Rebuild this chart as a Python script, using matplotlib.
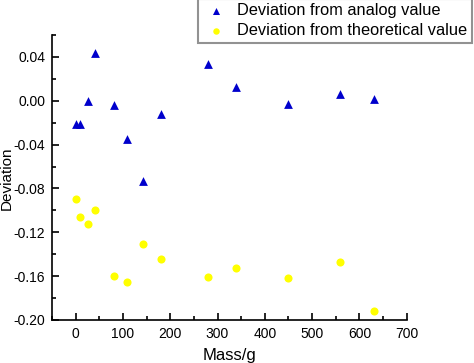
import matplotlib
matplotlib.use("Agg")
import matplotlib.pyplot as plt
from matplotlib.ticker import MultipleLocator, FormatStrFormatter

plt.rcParams["font.family"] = ["Liberation Sans", "DejaVu Sans"]

mass = [0, 8.5, 26, 41, 81, 109, 142, 181, 279, 339, 450, 560, 630]
dev_analog = [-0.021, -0.021, 0.000, 0.044, -0.004, -0.035, -0.0735,
              -0.0125, 0.0335, 0.0125, -0.0025, 0.0058, 0.0015]
dev_theory = [-0.090, -0.106, -0.112, -0.100, -0.160, -0.165, -0.131,
              -0.1445, -0.161, -0.1525, -0.162, -0.147, -0.192]

fig = plt.figure(figsize=(4.74, 3.63), dpi=100)
ax = fig.add_axes([0.1097, 0.1185, 0.7483, 0.7851])

ax.scatter(mass, dev_analog, marker="^", s=40, color="#0000cc", lw=0,
           label="Deviation from analog value", zorder=3)
ax.scatter(mass, dev_theory, marker="o", s=34, color="#ffff00", lw=0,
           label="Deviation from theoretical value", zorder=3)

ax.set_xlim(-50, 700)
ax.set_ylim(-0.20, 0.06)
ax.xaxis.set_major_locator(MultipleLocator(100))
ax.xaxis.set_minor_locator(MultipleLocator(50))
ax.set_yticks([-0.20, -0.16, -0.12, -0.08, -0.04, 0.00, 0.04])
ax.yaxis.set_minor_locator(MultipleLocator(0.02))
ax.yaxis.set_major_formatter(FormatStrFormatter("%.2f"))

for s in ("top", "right"):
    ax.spines[s].set_visible(False)
for s in ("left", "bottom"):
    ax.spines[s].set_linewidth(1.2)
ax.tick_params(which="major", direction="in", length=5, width=1.2,
               labelsize=10, pad=5)
ax.tick_params(which="minor", direction="in", length=3, width=1.2)

ax.set_xlabel("Mass/g", fontsize=12, labelpad=5)
fig.text(0, 0.51, "Deviation", rotation=90, fontsize=11,
         ha="left", va="center")

leg = fig.legend(loc="upper right", bbox_to_anchor=(0.996, 1.004),
                 fontsize=11.8, frameon=True, fancybox=False, shadow=False,
                 handlelength=1.6, handletextpad=0.5, borderpad=0.3,
                 borderaxespad=0.0, labelspacing=0.3, markerscale=0.8)
leg.get_frame().set_edgecolor("#777777")
leg.get_frame().set_linewidth(1.5)

fig.savefig("out.png", dpi=100)
